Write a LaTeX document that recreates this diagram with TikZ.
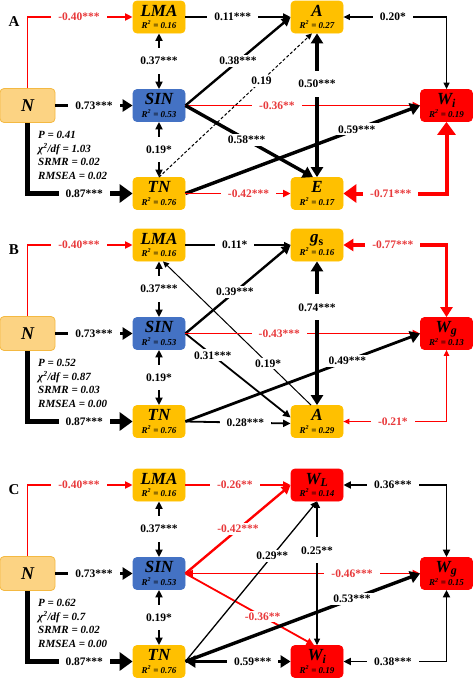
\documentclass[tikz,border=0pt]{standalone}
\usepackage{fontspec}
\setmainfont{Liberation Serif}
\usetikzlibrary{positioning, arrows.meta, calc}

\definecolor{boxorange}{HTML}{FFC000}
\definecolor{boxlight}{HTML}{FCD383}
\definecolor{boxlightline}{HTML}{F4B942}
\definecolor{boxblue}{HTML}{4472C4}
\definecolor{boxred}{HTML}{FF0000}
\definecolor{linered}{HTML}{FF0000}
\definecolor{txtred}{HTML}{E8393B}

% name and R^2 inside a variable box
\newcommand\boxtext[2]{{\fontsize{17}{17}\selectfont #1}\\{R\textsuperscript{2} = #2}}

% left half shared by the three panels
\newcommand\leftpart[5]{%
  \node[panel] (lab#1) at (14,22) {#1};
  \node[nbox] (N#1) at (27.5,105.5) {N};
  \node[obox] (LMA#1) at (159,17) {\boxtext{LMA}{0.16}};
  \node[sinbox] (SIN#1) at (159,105.5) {\boxtext{SIN}{0.53}};
  \node[obox] (TN#1) at (159,193.5) {\boxtext{TN}{0.76}};
  \draw[arrmed, linered, ->] (N#1.north) |- node[rlab, pos=0.745] {-0.40***} (LMA#1.west);
  \draw[arrbig, ->] (N#1) -- node[lab] {0.73***} (SIN#1);
  \draw[arrheavy, ->] (N#1.south) |- node[lab, pos=0.77] {0.87***} (TN#1.west);
  \draw[arrmed, <->] (SIN#1) -- node[vlab] {0.37***} (LMA#1);
  \draw[arrmed, <->] (SIN#1) -- node[vlab] {0.19*} (TN#1);
  \node[fitstat, anchor=north west] (fit#1) at (38,131)
    {P = #2\\χ\textsuperscript{2}/df = #3\\SRMR = #4\\RMSEA = #5};
}

\begin{document}
\begin{tikzpicture}[
    x=1pt, y=-1pt,
    vbox/.style={rounded corners=4pt, minimum width=52pt, minimum height=32pt,
                 inner sep=0pt, align=center, line width=0.8pt,
                 font=\bfseries\itshape\fontsize{9}{12.5}\selectfont},
    obox/.style={vbox, draw=boxorange, fill=boxorange},
    sinbox/.style={vbox, draw=boxblue, fill=boxblue},
    wbox/.style={vbox, draw=boxred, fill=boxred},
    nbox/.style={vbox, draw=boxlightline, fill=boxlight, minimum width=55pt,
                 minimum height=34pt, font=\bfseries\itshape\fontsize{18}{18}\selectfont},
    panel/.style={font=\bfseries\fontsize{15}{15}\selectfont, inner sep=0pt},
    fitstat/.style={align=left, inner sep=0pt,
                    font=\bfseries\itshape\fontsize{11}{13.5}\selectfont},
    lab/.style={fill=white, inner xsep=7pt, inner ysep=2pt,
                font=\bfseries\fontsize{11.5}{12}\selectfont},
    rlab/.style={lab, text=txtred},
    vlab/.style={lab, inner ysep=9pt},
    arrthin/.style={line width=1pt, >={Triangle[length=6pt, width=5.5pt]}},
    arrone/.style={line width=1.3pt, >={Triangle[length=6.5pt, width=6pt]}},
    arrmed/.style={line width=1.8pt, >={Triangle[length=7.5pt, width=7pt]}},
    arrmid/.style={line width=2.4pt, >={Triangle[length=9pt, width=9pt]}},
    arrbig/.style={line width=3.4pt, >={Triangle[length=10pt, width=12pt]}},
    arrheavy/.style={line width=5pt, >={Triangle[length=13pt, width=18pt]}}
]
\useasboundingbox (0,0) rectangle (474,680);

% ---- panel A
\begin{scope}
\leftpart{A}{0.41}{1.03}{0.02}{0.02}
\node[obox] (AA) at (317,17) {\boxtext{A}{0.27}};
\node[wbox] (WiA) at (446.5,105.5) {\boxtext{W\textsubscript{i}}{0.19}};
\node[obox] (EA) at (317,193.5) {\boxtext{E}{0.17}};
\draw[arrmed, ->] (LMAA) -- node[lab, pos=0.45] {0.11***} (AA);
\draw[arrmid, ->] (SINA.east) -- node[lab] {0.38***} (AA.west);
\draw[arrthin, dash pattern=on 3pt off 2pt, ->] (TNA.north) -- node[lab, pos=0.67] {0.19} ($(AA.south)+(-5,0)$);
\draw[arrmed, linered, ->] (SINA.east) -- node[rlab, pos=0.39] {-0.36**} (WiA.west);
\draw[arrbig, ->] (SINA.east) -- node[lab, pos=0.48] {0.58***} ($(EA.north)+(-4,0)$);
\draw[arrbig, ->] (TNA.east) -- node[lab, pos=0.73] {0.59***} (WiA.west);
\draw[arrmed, linered, ->] (TNA) -- node[rlab, pos=0.6] {-0.42***} (EA);
\draw[arrbig, <->] (EA) -- node[vlab, pos=0.65] {0.50***} (AA);
\draw[arrone, <->] (WiA.north) |- node[lab, pos=0.76] {0.20*} (AA.east);
\draw[arrheavy, line width=4pt, linered, <->] (EA.east) -| node[rlab, pos=0.23] {-0.71***} (WiA.south);
\end{scope}

% ---- panel B
\begin{scope}[shift={(0,228)}]
\leftpart{B}{0.52}{0.87}{0.03}{0.00}
\node[obox] (gsB) at (317,17) {\boxtext{g\textsubscript{\upshape s}}{0.16}};
\node[wbox] (WgB) at (446.5,105.5) {\boxtext{W\textsubscript{g}}{0.13}};
\node[obox] (AB) at (317,193.5) {\boxtext{A}{0.29}};
\draw[arrone, ->] (LMAB) -- node[lab, pos=0.47] {0.11*} (gsB);
\draw[arrmid, ->] (SINB.east) -- node[lab, pos=0.47] {0.39***} (gsB.west);
\draw[arrthin, ->] ($(AB.north)+(-6,0)$) -- node[lab, pos=0.29] {0.19*} ($(LMAB.south)+(4,0)$);
\draw[arrmed, ->] (SINB.east) -- node[lab, pos=0.26] {0.31***} ($(AB.west)+(0,-4)$);
\draw[arrmed, linered, ->] (SINB.east) -- node[rlab, pos=0.4] {-0.43***} (WgB.west);
\draw[arrbig, line width=2.8pt, ->] (TNB.east) -- node[lab, pos=0.69] {0.49***} (WgB.west);
\draw[arrmed, ->] (TNB.east) -- node[lab, pos=0.57] {0.28***} ($(AB.west)+(0,2)$);
\draw[arrbig, <->] (AB) -- node[vlab, pos=0.68] {0.74***} (gsB);
\draw[arrbig, linered, <->] (WgB.north) |- node[rlab, pos=0.76] {-0.77***} (gsB.east);
\draw[arrthin, linered, <->] (WgB.south) |- node[rlab, pos=0.76] {-0.21*} (AB.east);
\end{scope}

% ---- panel C
\begin{scope}[shift={(0,468)}]
\leftpart{C}{0.62}{0.7}{0.02}{0.00}
\node[wbox] (WLC) at (317,17) {\boxtext{W\textsubscript{L}}{0.14}};
\node[wbox] (WgC) at (446.5,105.5) {\boxtext{W\textsubscript{g}}{0.15}};
\node[wbox] (WiC) at (317,193.5) {\boxtext{W\textsubscript{i}}{0.19}};
\draw[arrmed, linered, ->] (LMAC) -- node[rlab, pos=0.47] {-0.26**} (WLC);
\draw[arrmid, linered, ->] (SINC.east) -- node[rlab] {-0.42***} (WLC.west);
\draw[arrmed, linered, <->] (SINC.east) -- node[rlab, pos=0.71] {-0.46***} (WgC.west);
\draw[arrmed, linered, ->] (SINC.east) -- node[rlab, pos=0.6] {-0.36**} ($(WiC.north)+(-3,0)$);
\draw[arrone, ->] (TNC.east) -- node[lab, pos=0.66] {0.29**} (WLC.south);
\draw[arrone, <->] (WiC) -- node[vlab, pos=0.66] {0.25**} (WLC);
\draw[arrbig, ->] (TNC.east) -- node[lab, pos=0.71] {0.53***} (WgC.west);
\draw[arrbig, <->] (TNC) -- node[lab, pos=0.64] {0.59***} (WiC);
\draw[arrmed, <->] (WgC.north) |- node[lab, pos=0.76] {0.36***} (WLC.east);
\draw[arrmed, <->] (WgC.south) |- node[lab, pos=0.76] {0.38***} (WiC.east);
\end{scope}
\end{tikzpicture}
\end{document}
